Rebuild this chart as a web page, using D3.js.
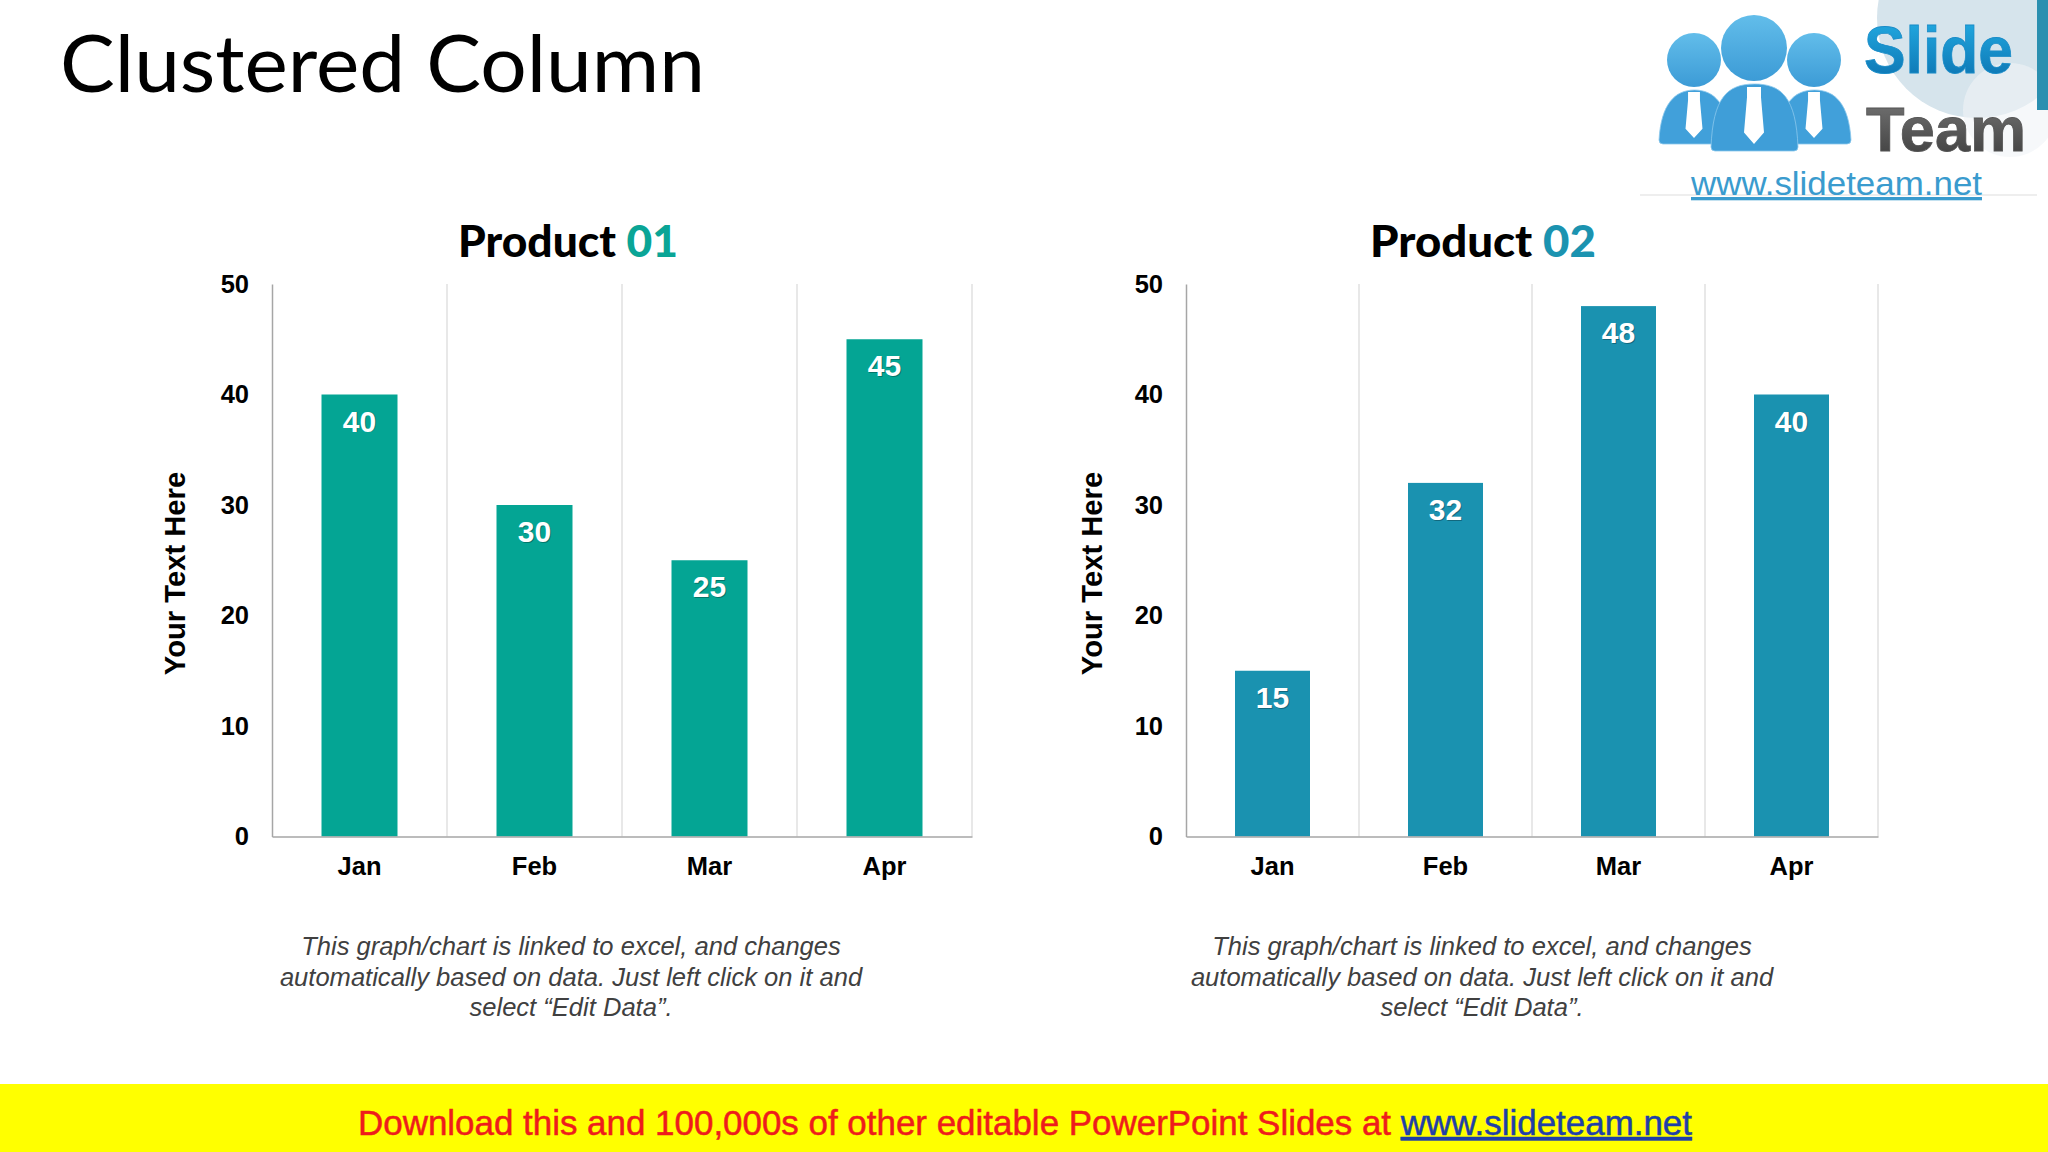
<!DOCTYPE html>
<html><head><meta charset="utf-8">
<script src="https://cdnjs.cloudflare.com/ajax/libs/d3/7.8.5/d3.min.js"></script>
<style>html,body{margin:0;padding:0;background:#fff;overflow:hidden}svg{display:block}</style>
</head><body><svg id="c" width="2048" height="1152"></svg>
<script>
const months = ["Jan","Feb","Mar","Apr"];
const product01 = [40,30,25,45];
const product02 = [15,32,48,40];
const yTicks = [0,10,20,30,40,50];
const yTitle = "Your Text Here";
const captionLines = ["This graph/chart is linked to excel, and changes","automatically based on data. Just left click on it and","select “Edit Data”."];

const svg = d3.select("#c");
const ARIAL = "'Liberation Sans',Arial,sans-serif";
const GEO = "Lato,'Open Sans',sans-serif";
svg.append("rect").attr("width",2048).attr("height",1152).attr("fill","#fff");

// page title
svg.append("text").attr("x",60).attr("y",92).attr("font-family",GEO).attr("font-size",80)
  .attr("fill","#000").attr("textLength",645).attr("lengthAdjust","spacingAndGlyphs").text("Clustered Column");

function panel(o){
  const x = d3.scaleBand().domain(months).range([o.x0,o.x1]).paddingInner(0).paddingOuter(0);
  const y = d3.scaleLinear().domain([0,50]).range([836.5,284]);
  const g = svg.append("g");
  // separators
  g.selectAll("line.sep").data(months).join("line").attr("class","sep")
    .attr("x1",d=>x(d)+x.bandwidth()).attr("x2",d=>x(d)+x.bandwidth())
    .attr("y1",y(50)).attr("y2",y(0)).attr("stroke","#dcdcdc").attr("stroke-width",1.3);
  // bars
  const bw = o.barW;
  g.selectAll("rect.bar").data(o.values).join("rect").attr("class","bar")
    .attr("x",(d,i)=>x(months[i])+x.bandwidth()/2-bw/2).attr("width",bw)
    .attr("y",d=>y(d)).attr("height",d=>y(0)-y(d)).attr("fill",o.color);
  // value labels
  g.selectAll("text.sh").data(o.values).join("text").attr("class","sh")
    .attr("x",(d,i)=>x(months[i])+x.bandwidth()/2+0.9).attr("y",d=>y(d)+37.9)
    .attr("text-anchor","middle").attr("font-family",ARIAL).attr("font-weight",700)
    .attr("font-size",30).attr("fill","#000").attr("opacity",0.28).text(d=>d);
  g.selectAll("text.val").data(o.values).join("text").attr("class","val")
    .attr("x",(d,i)=>x(months[i])+x.bandwidth()/2).attr("y",d=>y(d)+37)
    .attr("text-anchor","middle").attr("font-family",ARIAL).attr("font-weight",700)
    .attr("font-size",30).attr("fill","#fff").text(d=>d);
  // axes
  const ax = g.append("g").attr("transform",`translate(${o.x0},0)`)
    .call(d3.axisLeft(y).tickValues(yTicks).tickSize(0).tickPadding(23));
  ax.select(".domain").attr("stroke","#a6a6a6").attr("stroke-width",1.5);
  ax.selectAll("text").attr("font-family",ARIAL).attr("font-weight",700).attr("font-size",25.5).attr("fill","#000");
  const bx = g.append("g").attr("transform",`translate(0,${y(0)})`)
    .call(d3.axisBottom(x).tickSize(0).tickPadding(20));
  bx.select(".domain").attr("stroke","#a6a6a6").attr("stroke-width",1.5);
  bx.selectAll("text").attr("font-family",ARIAL).attr("font-weight",700).attr("font-size",25.5).attr("fill","#000");
  // y title
  g.append("text").attr("transform",`translate(${o.yTitleX},573.5) rotate(-90)`).attr("text-anchor","middle")
    .attr("font-family",ARIAL).attr("font-weight",700).attr("font-size",29.2).attr("fill","#000").text(yTitle);
  // panel title
  const t = g.append("text").attr("x",o.titleX).attr("y",256.5).attr("font-family",GEO).attr("font-weight",900)
    .attr("font-size",44).attr("fill","#000").attr("textLength",o.titleW).attr("lengthAdjust","spacingAndGlyphs");
  t.append("tspan").text("Product ");
  t.append("tspan").attr("fill",o.titleColor).text(o.num);
  // caption
  g.selectAll("text.cap").data(captionLines).join("text").attr("class","cap")
    .attr("x",o.capX).attr("y",(d,i)=>955+i*30.6).attr("text-anchor","middle")
    .attr("font-family",ARIAL).attr("font-style","italic").attr("font-size",25.55).attr("fill","#404040").text(d=>d);
}
panel({x0:272,x1:972,barW:76,values:product01,color:"#04a594",yTitleX:185,titleX:458,titleW:220,titleColor:"#0aa596",num:"01",capX:571});
panel({x0:1186,x1:1878,barW:75,values:product02,color:"#1a92b0",yTitleX:1102,titleX:1370,titleW:226,titleColor:"#1b93b0",num:"02",capX:1482});

// footer band
svg.append("rect").attr("x",0).attr("y",1084).attr("width",2048).attr("height",68).attr("fill","#ffff00");
const ft = svg.append("text").attr("x",358).attr("y",1135).attr("font-family",ARIAL).attr("font-size",34.5)
  .attr("textLength",1334).attr("lengthAdjust","spacingAndGlyphs").attr("fill","#ee1c1c").attr("stroke","#ee1c1c").attr("stroke-width",0.5);
ft.append("tspan").text("Download this and 100,000s of other editable PowerPoint Slides at ");
ft.append("tspan").attr("fill","#1f3fa8").attr("stroke","#1f3fa8").attr("text-decoration","underline").text("www.slideteam.net");

// logo
const defs = svg.append("defs");
function grad(id,a,b){const g=defs.append("linearGradient").attr("id",id).attr("x1",0).attr("y1",0).attr("x2",0).attr("y2",1);
  g.append("stop").attr("offset",0).attr("stop-color",a);g.append("stop").attr("offset",1).attr("stop-color",b);}
grad("gSlide","#25b0e6","#0a6fae");grad("gTeam","#777","#3c3c3c");grad("gHead","#62bdea","#3c9bd6");
const logo = svg.append("g");
logo.append("circle").attr("cx",1977).attr("cy",18).attr("r",100).attr("fill","#d6e4ec");
logo.append("circle").attr("cx",2010).attr("cy",110).attr("r",47).attr("fill","#f0f4f7").attr("opacity",0.6);
logo.append("rect").attr("x",2037).attr("y",0).attr("width",11).attr("height",110).attr("fill","#2a8fb0");
[[1694,60,27],[1814,60,27],[1754,48,33]].forEach(h=>logo.append("circle").attr("cx",h[0]).attr("cy",h[1]).attr("r",h[2]).attr("fill","url(#gHead)"));
function body(x0,x1,top,bot,fill){
  const cx=(x0+x1)/2;
  logo.append("path").attr("fill",fill).attr("stroke","#8cc8ec").attr("stroke-width",0.8)
    .attr("d",`M${x0} ${bot-4}Q${x0} ${bot} ${x0+4} ${bot}L${x1-4} ${bot}Q${x1} ${bot} ${x1} ${bot-4}C${x1-2} ${top+14} ${x1-16} ${top} ${cx} ${top}C${x0+16} ${top} ${x0+2} ${top+14} ${x0} ${bot-4}Z`);
}
body(1659,1730,90,144,"#41a0da");body(1778,1851,90,144,"#41a0da");body(1711,1798,84,151,"#3f9ed8");
function tie(cx,top,w,h){logo.append("path").attr("fill","#fff").attr("d",`M${cx-w*.35} ${top}H${cx+w*.35}V${top+h*.18}L${cx+w*.5} ${top+h*.8}L${cx} ${top+h}L${cx-w*.5} ${top+h*.8}L${cx-w*.35} ${top+h*.18}Z`);}
tie(1694,92,17,46);tie(1754,87,20,57);tie(1814,92,17,46);
logo.append("text").attr("x",1864).attr("y",73).attr("font-family",ARIAL).attr("font-weight",700).attr("font-size",67)
  .attr("fill","url(#gSlide)").attr("stroke","#1a8cc8").attr("stroke-width",0.8).attr("textLength",149).attr("lengthAdjust","spacingAndGlyphs").text("Slide");
logo.append("text").attr("x",1866).attr("y",151).attr("font-family",ARIAL).attr("font-weight",700).attr("font-size",63)
  .attr("fill","url(#gTeam)").attr("stroke","#555").attr("stroke-width",0.8).attr("textLength",160).attr("lengthAdjust","spacingAndGlyphs").text("Team");
logo.append("line").attr("x1",1640).attr("x2",2037).attr("y1",195).attr("y2",195).attr("stroke","#ddd").attr("stroke-width",1.2);
logo.append("text").attr("x",1691).attr("y",195).attr("font-family",ARIAL).attr("font-size",33)
  .attr("fill","#3a9bce").attr("text-decoration","underline").attr("textLength",291).attr("lengthAdjust","spacingAndGlyphs").text("www.slideteam.net");
</script></body></html>
